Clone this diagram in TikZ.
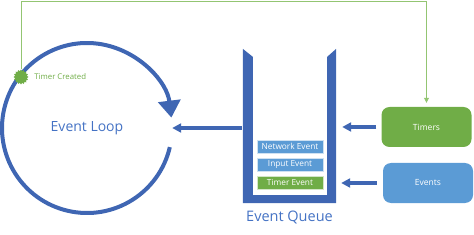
\documentclass[tikz,border=0pt]{standalone}
\usepackage{fontspec}
\setmainfont{Open Sans}
\usetikzlibrary{shapes.geometric, arrows.meta, positioning, calc}

\definecolor{loopblue}{HTML}{3F66B3}
\definecolor{textblue}{HTML}{4472C4}
\definecolor{itemblue}{HTML}{5B9BD5}
\definecolor{itemgreen}{HTML}{70AD47}
\definecolor{linegreen}{HTML}{93C572}

\begin{document}
\begin{tikzpicture}[
    x=1pt, y=-1pt,
    item/.style={
      fill=itemblue, draw=white!70!itemblue, line width=0.4pt,
      minimum width=66pt, minimum height=13pt,
      inner sep=0pt, text=white, font=\fontsize{8.3}{9}\selectfont
    },
    source/.style={
      rounded corners=8pt, minimum width=90pt, minimum height=40pt,
      inner sep=0pt, text=white, font=\fontsize{8.5}{10}\selectfont
    },
    bigarr/.style={-{Triangle[length=9pt, width=9pt]}, line width=3.6pt, draw=loopblue},
    greenline/.style={draw=linegreen, line width=0.8pt}
  ]
  \useasboundingbox (0,0) rectangle (474,235);

  % ===== Event loop =====
  \node[circle, minimum size=170pt, inner sep=0pt, text=textblue,
        font=\fontsize{14}{16}\selectfont] (loop) at (87,128) {Event Loop};
  \draw[loopblue, line width=4pt, -{Triangle[length=17pt, width=22pt]}]
    ([shift={(-13:85pt)}]loop.center) arc[start angle=-13, end angle=-353, radius=85pt];

  \node[star, star points=16, star point ratio=1.25, minimum size=15pt, inner sep=0pt,
        fill=itemgreen] (created) at (21,77) {};
  \node[right=2pt of created, text=itemgreen, font=\fontsize{7.8}{9}\selectfont] (createdtxt) {Timer Created};

  % ===== Event queue =====
  \node[minimum width=93pt, minimum height=154pt, inner sep=0pt] (queue) at (289.5,126) {};
  \fill[loopblue] (queue.north west) -- (queue.south west) -- (queue.south east)
    -- (queue.north east) -- ++(-9,8) -- ($(queue.south east)+(-9,-8)$)
    -- ($(queue.south west)+(10,-8)$) -- ($(queue.north west)+(10,8)$) -- cycle;
  \node[font=\fontsize{14.5}{16}\selectfont, text=textblue, below=4pt of queue] (queuetxt) {Event Queue};

  \node[item] (network) at (290,146.5) {Network Event};
  \node[item, below=4.5pt of network] (input) {Input Event};
  \node[item, fill=itemgreen, draw=white!70!itemgreen, below=4.5pt of input] (timer) {Timer Event};

  % ===== Sources =====
  \node[source, fill=itemgreen] (timers) at (426.5,127) {Timers};
  \node[source, fill=itemblue] (events) at (428,183) {Events};

  % Connections
  \coordinate (toprow) at (200,1.5);
  \draw[greenline, -{Triangle[length=5pt, width=5pt]}, shorten >=4pt]
    (created.north) |- (toprow) -| (timers.north);
  \draw[bigarr, shorten <=1pt] (queue.west |- loop.east) -- (loop.east);
  \draw[bigarr, shorten <=5pt, shorten >=6pt] (timers.west) -- (timers.west -| queue.east);
  \draw[bigarr, shorten <=6pt, shorten >=5pt] (events.west) -- (events.west -| queue.east);
\end{tikzpicture}
\end{document}
